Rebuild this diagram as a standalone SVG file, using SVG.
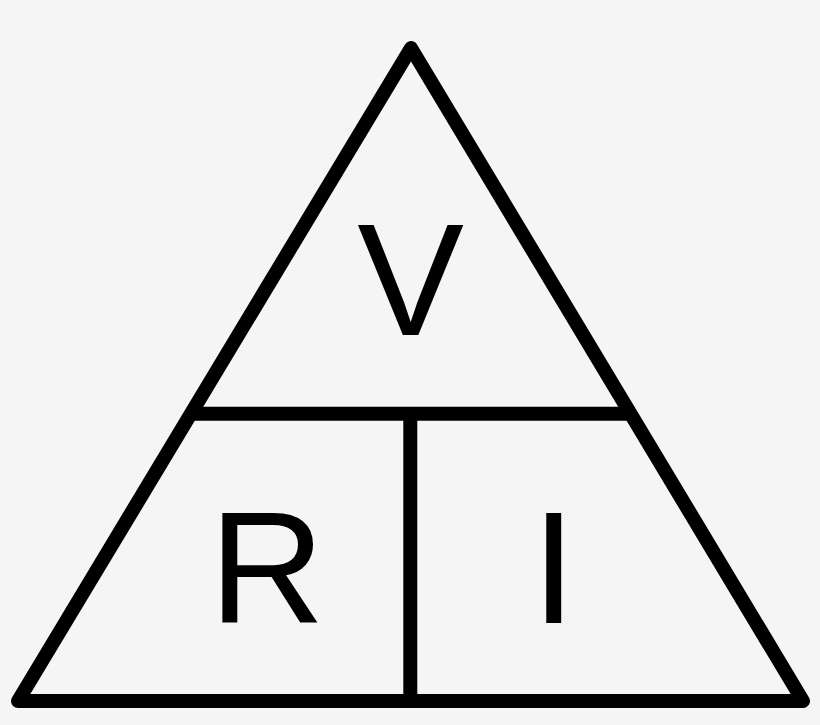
<svg xmlns="http://www.w3.org/2000/svg" width="820" height="725" viewBox="0 0 820 725">
<style>
.ln{fill:none;stroke:#000;stroke-width:14;stroke-linejoin:round;stroke-linecap:butt}
.lbl{font-family:"Liberation Sans",Arial,sans-serif;font-size:160px;fill:#000;text-anchor:middle}
</style>
<rect width="820" height="725" fill="#f5f5f5"/>
<g id="connectors">
<polygon class="ln" points="411,48 803,701 18,701"/>
<line class="ln" x1="191" y1="413.7" x2="631" y2="413.7"/>
<line class="ln" x1="410.3" y1="413.7" x2="410.3" y2="701"/>
</g>
<g id="node-V"><text class="lbl" x="410.5" y="335">V</text></g>
<g id="node-R"><text class="lbl" x="267" y="623">R</text></g>
<g id="node-I"><text class="lbl" x="553.7" y="623">I</text></g>
</svg>
